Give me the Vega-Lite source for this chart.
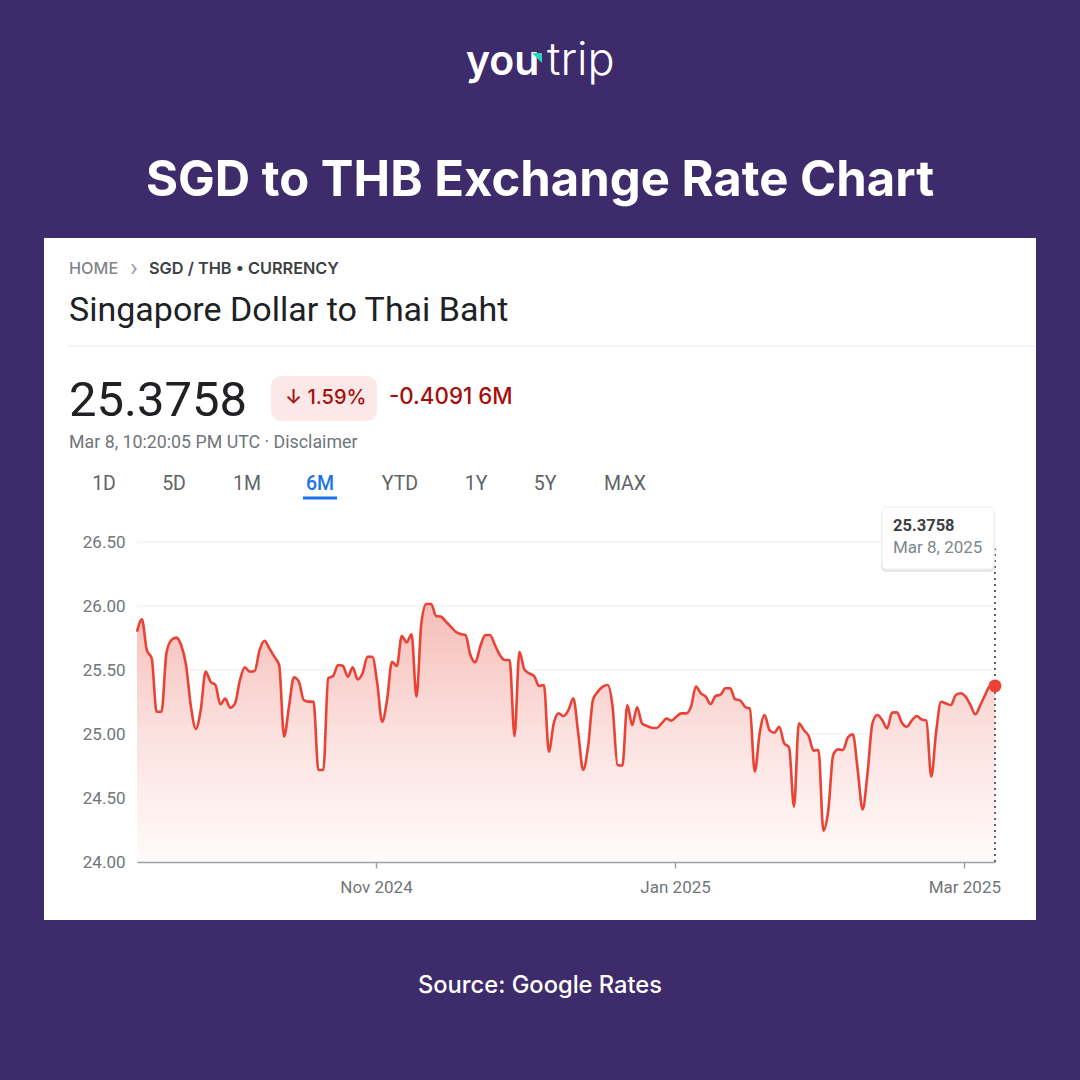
{"$schema":"https://vega.github.io/schema/vega-lite/v6.json","width":858,"height":320,"autosize":"none","padding":{"left":137,"top":542,"right":85,"bottom":218},"background":"#3E2B6B","view":{"stroke":null},"config":{"text":{"baseline":"alphabetic"}},"datasets":{"rates":[
{"date":"2024-09-13T06:00:00","rate":25.799},{"date":"2024-09-14T06:00:00","rate":25.896},{"date":"2024-09-15T06:00:00","rate":25.656},{"date":"2024-09-16T06:00:00","rate":25.591},{"date":"2024-09-17T06:00:00","rate":25.174},{"date":"2024-09-18T06:00:00","rate":25.174},{"date":"2024-09-19T06:00:00","rate":25.63},{"date":"2024-09-20T06:00:00","rate":25.734},{"date":"2024-09-21T06:00:00","rate":25.753},{"date":"2024-09-22T06:00:00","rate":25.695},{"date":"2024-09-23T06:00:00","rate":25.539},{"date":"2024-09-24T06:00:00","rate":25.214},{"date":"2024-09-25T06:00:00","rate":25.039},{"date":"2024-09-26T06:00:00","rate":25.188},{"date":"2024-09-27T06:00:00","rate":25.487},{"date":"2024-09-28T06:00:00","rate":25.409},{"date":"2024-09-29T06:00:00","rate":25.383},{"date":"2024-09-30T06:00:00","rate":25.232},
{"date":"2024-10-01T06:00:00","rate":25.276},{"date":"2024-10-02T06:00:00","rate":25.206},{"date":"2024-10-03T06:00:00","rate":25.24},{"date":"2024-10-04T06:00:00","rate":25.422},{"date":"2024-10-05T06:00:00","rate":25.521},{"date":"2024-10-06T06:00:00","rate":25.487},{"date":"2024-10-07T06:00:00","rate":25.492},{"date":"2024-10-08T06:00:00","rate":25.656},{"date":"2024-10-09T06:00:00","rate":25.729},{"date":"2024-10-10T06:00:00","rate":25.669},{"date":"2024-10-11T06:00:00","rate":25.604},{"date":"2024-10-12T06:00:00","rate":25.539},{"date":"2024-10-13T06:00:00","rate":24.979},{"date":"2024-10-14T06:00:00","rate":25.214},{"date":"2024-10-15T06:00:00","rate":25.443},{"date":"2024-10-16T06:00:00","rate":25.409},{"date":"2024-10-17T06:00:00","rate":25.266},{"date":"2024-10-18T06:00:00","rate":25.253},{"date":"2024-10-19T06:00:00","rate":25.253},{"date":"2024-10-20T06:00:00","rate":24.719},{"date":"2024-10-21T06:00:00","rate":24.719},{"date":"2024-10-22T06:00:00","rate":25.435},{"date":"2024-10-23T06:00:00","rate":25.453},{"date":"2024-10-24T06:00:00","rate":25.539},{"date":"2024-10-25T06:00:00","rate":25.531},{"date":"2024-10-26T06:00:00","rate":25.448},{"date":"2024-10-27T06:00:00","rate":25.521},{"date":"2024-10-28T06:00:00","rate":25.427},{"date":"2024-10-29T06:00:00","rate":25.474},{"date":"2024-10-30T06:00:00","rate":25.604},{"date":"2024-10-31T06:00:00","rate":25.604},
{"date":"2024-11-01T06:00:00","rate":25.396},{"date":"2024-11-02T06:00:00","rate":25.096},{"date":"2024-11-03T06:00:00","rate":25.266},{"date":"2024-11-04T06:00:00","rate":25.565},{"date":"2024-11-05T06:00:00","rate":25.531},{"date":"2024-11-06T06:00:00","rate":25.766},{"date":"2024-11-07T06:00:00","rate":25.716},{"date":"2024-11-08T06:00:00","rate":25.779},{"date":"2024-11-09T06:00:00","rate":25.292},{"date":"2024-11-10T06:00:00","rate":25.865},{"date":"2024-11-11T06:00:00","rate":26.016},{"date":"2024-11-12T06:00:00","rate":26.016},{"date":"2024-11-13T06:00:00","rate":25.922},{"date":"2024-11-14T06:00:00","rate":25.917},{"date":"2024-11-15T06:00:00","rate":25.878},{"date":"2024-11-16T06:00:00","rate":25.839},{"date":"2024-11-17T06:00:00","rate":25.799},{"date":"2024-11-18T06:00:00","rate":25.781},{"date":"2024-11-19T06:00:00","rate":25.773},{"date":"2024-11-20T06:00:00","rate":25.617},{"date":"2024-11-21T06:00:00","rate":25.56},{"date":"2024-11-22T06:00:00","rate":25.682},{"date":"2024-11-23T06:00:00","rate":25.771},{"date":"2024-11-24T06:00:00","rate":25.773},{"date":"2024-11-25T06:00:00","rate":25.695},{"date":"2024-11-26T06:00:00","rate":25.617},{"date":"2024-11-27T06:00:00","rate":25.578},{"date":"2024-11-28T06:00:00","rate":25.578},{"date":"2024-11-29T06:00:00","rate":24.984},{"date":"2024-11-30T06:00:00","rate":25.643},
{"date":"2024-12-01T06:00:00","rate":25.505},{"date":"2024-12-02T06:00:00","rate":25.474},{"date":"2024-12-03T06:00:00","rate":25.453},{"date":"2024-12-04T06:00:00","rate":25.375},{"date":"2024-12-05T06:00:00","rate":25.383},{"date":"2024-12-06T06:00:00","rate":24.862},{"date":"2024-12-07T06:00:00","rate":25.083},{"date":"2024-12-08T06:00:00","rate":25.161},{"date":"2024-12-09T06:00:00","rate":25.141},{"date":"2024-12-10T06:00:00","rate":25.188},{"date":"2024-12-11T06:00:00","rate":25.279},{"date":"2024-12-12T06:00:00","rate":25.005},{"date":"2024-12-13T06:00:00","rate":24.719},{"date":"2024-12-14T06:00:00","rate":24.901},{"date":"2024-12-15T06:00:00","rate":25.266},{"date":"2024-12-16T06:00:00","rate":25.331},{"date":"2024-12-17T06:00:00","rate":25.37},{"date":"2024-12-18T06:00:00","rate":25.383},{"date":"2024-12-19T06:00:00","rate":25.214},{"date":"2024-12-20T06:00:00","rate":24.758},{"date":"2024-12-21T06:00:00","rate":24.753},{"date":"2024-12-22T06:00:00","rate":25.227},{"date":"2024-12-23T06:00:00","rate":25.07},{"date":"2024-12-24T06:00:00","rate":25.208},{"date":"2024-12-25T06:00:00","rate":25.083},{"date":"2024-12-26T06:00:00","rate":25.0625},{"date":"2024-12-27T06:00:00","rate":25.049},{"date":"2024-12-28T06:00:00","rate":25.047},{"date":"2024-12-29T06:00:00","rate":25.083},{"date":"2024-12-30T06:00:00","rate":25.12},{"date":"2024-12-31T06:00:00","rate":25.104},
{"date":"2025-01-01T06:00:00","rate":25.135},{"date":"2025-01-02T06:00:00","rate":25.161},{"date":"2025-01-03T06:00:00","rate":25.161},{"date":"2025-01-04T06:00:00","rate":25.214},{"date":"2025-01-05T06:00:00","rate":25.37},{"date":"2025-01-06T06:00:00","rate":25.318},{"date":"2025-01-07T06:00:00","rate":25.292},{"date":"2025-01-08T06:00:00","rate":25.234},{"date":"2025-01-09T06:00:00","rate":25.297},{"date":"2025-01-10T06:00:00","rate":25.307},{"date":"2025-01-11T06:00:00","rate":25.357},{"date":"2025-01-12T06:00:00","rate":25.357},{"date":"2025-01-13T06:00:00","rate":25.271},{"date":"2025-01-14T06:00:00","rate":25.263},{"date":"2025-01-15T06:00:00","rate":25.213},{"date":"2025-01-16T06:00:00","rate":25.198},{"date":"2025-01-17T06:00:00","rate":24.706},{"date":"2025-01-18T06:00:00","rate":25.005},{"date":"2025-01-19T06:00:00","rate":25.148},{"date":"2025-01-20T06:00:00","rate":25.031},{"date":"2025-01-21T06:00:00","rate":25.01},{"date":"2025-01-22T06:00:00","rate":25.057},{"date":"2025-01-23T06:00:00","rate":24.927},{"date":"2025-01-24T06:00:00","rate":24.896},{"date":"2025-01-25T06:00:00","rate":24.432},{"date":"2025-01-26T06:00:00","rate":25.083},{"date":"2025-01-27T06:00:00","rate":25.031},{"date":"2025-01-28T06:00:00","rate":24.984},{"date":"2025-01-29T06:00:00","rate":24.87},{"date":"2025-01-30T06:00:00","rate":24.875},{"date":"2025-01-31T06:00:00","rate":24.245},
{"date":"2025-02-01T06:00:00","rate":24.406},{"date":"2025-02-02T06:00:00","rate":24.836},{"date":"2025-02-03T06:00:00","rate":24.88},{"date":"2025-02-04T06:00:00","rate":24.875},{"date":"2025-02-05T06:00:00","rate":24.974},{"date":"2025-02-06T06:00:00","rate":24.997},{"date":"2025-02-07T06:00:00","rate":24.719},{"date":"2025-02-08T06:00:00","rate":24.411},{"date":"2025-02-09T06:00:00","rate":24.693},{"date":"2025-02-10T06:00:00","rate":25.083},{"date":"2025-02-11T06:00:00","rate":25.148},{"date":"2025-02-12T06:00:00","rate":25.109},{"date":"2025-02-13T06:00:00","rate":25.044},{"date":"2025-02-14T06:00:00","rate":25.167},{"date":"2025-02-15T06:00:00","rate":25.169},{"date":"2025-02-16T06:00:00","rate":25.088},{"date":"2025-02-17T06:00:00","rate":25.057},{"date":"2025-02-18T06:00:00","rate":25.104},{"date":"2025-02-19T06:00:00","rate":25.141},{"date":"2025-02-20T06:00:00","rate":25.114},{"date":"2025-02-21T06:00:00","rate":25.104},{"date":"2025-02-22T06:00:00","rate":24.667},{"date":"2025-02-23T06:00:00","rate":25.018},{"date":"2025-02-24T06:00:00","rate":25.252},{"date":"2025-02-25T06:00:00","rate":25.239},{"date":"2025-02-26T06:00:00","rate":25.226},{"date":"2025-02-27T06:00:00","rate":25.305},{"date":"2025-02-28T06:00:00","rate":25.318},
{"date":"2025-03-01T06:00:00","rate":25.292},{"date":"2025-03-02T06:00:00","rate":25.226},{"date":"2025-03-03T06:00:00","rate":25.154},{"date":"2025-03-04T06:00:00","rate":25.226},{"date":"2025-03-05T06:00:00","rate":25.305},{"date":"2025-03-06T06:00:00","rate":25.375},{"date":"2025-03-07T06:00:00","rate":25.3758}],
"latest":[{"date":"2025-03-07T06:00:00","rate":25.3758,"top":26.45,"floor":24}],
"grid":[{"level":24.5},{"level":25},{"level":25.5},{"level":26},{"level":26.5}],
"one":[{"n":1}]},
"layer":[
{"data":{"name":"one"},"mark":{"type":"rect","fill":"#ffffff"},"encoding":{"x":{"value":-93},"x2":{"value":899},"y":{"value":-304},"y2":{"value":378}}},
{"data":{"name":"one"},"mark":{"type":"rule","stroke":"#E8EAED","strokeWidth":1},"encoding":{"x":{"value":-68},"x2":{"value":899},"y":{"value":-196}}},
{"data":{"name":"grid"},"mark":{"type":"rule","stroke":"#F3F3F3","strokeWidth":1.5},"encoding":{"y":{"field":"level","type":"quantitative","title":null,"scale":{"domain":[24,26.5],"nice":false,"zero":false}},"x":{"value":0},"x2":{"value":858}}},
{"data":{"name":"rates"},"mark":{"type":"area","interpolate":"monotone","line":false,"color":{"gradient":"linear","x1":0,"y1":0,"x2":0,"y2":1,"stops":[{"offset":0,"color":"#F6BDB8"},{"offset":0.5,"color":"#FBE1DF"},{"offset":1,"color":"#FFFBFA"}]}},"encoding":{
"x":{"field":"date","type":"temporal","title":null,"scale":{"domain":[{"year":2024,"month":"sep","date":13,"hours":6},{"year":2025,"month":"mar","date":7,"hours":6}],"nice":false},"axis":{"values":[{"year":2024,"month":"nov","date":1},{"year":2025,"month":"jan","date":1},{"year":2025,"month":"mar","date":1}],"format":"%b %Y","grid":false,"zindex":1,"domainColor":"#9AA0A6","domainWidth":1.5,"tickColor":"#9AA0A6","tickSize":6,"tickWidth":1.5,"labelColor":"#70757A","labelFont":"Roboto","labelFontSize":17,"labelPadding":11,"labelFlush":false,"labelOverlap":false,"labelBound":false}},
"y":{"field":"rate","type":"quantitative","stack":null,"title":null,"scale":{"domain":[24,26.5],"nice":false,"zero":false},"axis":{"values":[24,24.5,25,25.5,26,26.5],"format":".2f","grid":false,"zindex":1,"domain":false,"ticks":false,"labelColor":"#70757A","labelFont":"Roboto","labelFontSize":17,"labelPadding":12}}}},
{"data":{"name":"rates"},"mark":{"type":"line","interpolate":"monotone","stroke":"#EA4335","strokeWidth":2.6},"encoding":{"x":{"field":"date","type":"temporal","title":null},"y":{"field":"rate","type":"quantitative","title":null}}},
{"data":{"name":"latest"},"mark":{"type":"rule","stroke":"#5F6368","strokeWidth":2,"strokeDash":[2,4]},"encoding":{"x":{"field":"date","type":"temporal","title":null},"y":{"field":"floor","type":"quantitative","title":null},"y2":{"field":"top"}}},
{"data":{"name":"latest"},"mark":{"type":"point","filled":true,"color":"#EA4335","opacity":1,"size":165},"encoding":{"x":{"field":"date","type":"temporal","title":null},"y":{"field":"rate","type":"quantitative","title":null}}},
{"data":{"name":"one"},"mark":{"type":"rect","fill":"#CFCFCF","opacity":0.5,"cornerRadius":5},"encoding":{"x":{"value":744},"x2":{"value":858},"y":{"value":-33},"y2":{"value":30}}},
{"data":{"name":"one"},"mark":{"type":"rect","fill":"#ffffff","stroke":"#F1F1F1","cornerRadius":4},"encoding":{"x":{"value":745},"x2":{"value":857},"y":{"value":-35},"y2":{"value":27}}},
{"data":{"values":[{"label":"25.3758"}]},"mark":{"type":"text","x":756,"y":-11,"align":"left","font":"Roboto","fontSize":16.5,"fontWeight":700,"fill":"#3C4043"},"encoding":{"text":{"field":"label"}}},
{"data":{"values":[{"label":"Mar 8, 2025"}]},"mark":{"type":"text","x":756,"y":11,"align":"left","font":"Roboto","fontSize":17,"fill":"#80868B"},"encoding":{"text":{"field":"label"}}},
{"data":{"values":[{"label":"HOME"}]},"mark":{"type":"text","x":-68,"y":-268,"align":"left","font":"Inter","fontSize":16.3,"fontWeight":500,"fill":"#80868B"},"encoding":{"text":{"field":"label"}}},
{"data":{"values":[{"label":"›"}]},"mark":{"type":"text","x":-3,"y":-266,"align":"center","font":"Roboto","fontSize":26,"fill":"#9AA0A6"},"encoding":{"text":{"field":"label"}}},
{"data":{"values":[{"label":"SGD / THB • CURRENCY"}]},"mark":{"type":"text","x":12,"y":-268,"align":"left","font":"Inter","fontSize":16.3,"fontWeight":600,"fill":"#3C4043"},"encoding":{"text":{"field":"label"}}},
{"data":{"values":[{"label":"Singapore Dollar to Thai Baht"}]},"mark":{"type":"text","x":-68,"y":-221,"align":"left","font":"Roboto","fontSize":34,"fill":"#202124"},"encoding":{"text":{"field":"label"}}},
{"data":{"values":[{"label":"25.3758"}]},"mark":{"type":"text","x":-68,"y":-126,"align":"left","font":"Roboto","fontSize":49,"fill":"#202124"},"encoding":{"text":{"field":"label"}}},
{"data":{"name":"one"},"mark":{"type":"rect","fill":"#FCE8E6","cornerRadius":10},"encoding":{"x":{"value":134},"x2":{"value":240},"y":{"value":-166},"y2":{"value":-121}}},
{"data":{"values":[{"label":"↓ 1.59%"}]},"mark":{"type":"text","x":148,"y":-138,"align":"left","font":"Inter","fontSize":20,"fontWeight":500,"fill":"#A50E0E"},"encoding":{"text":{"field":"label"}}},
{"data":{"values":[{"label":"-0.4091 6M"}]},"mark":{"type":"text","x":252,"y":-138,"align":"left","font":"Inter","fontSize":22.3,"fontWeight":500,"fill":"#A50E0E"},"encoding":{"text":{"field":"label"}}},
{"data":{"values":[{"label":"Mar 8, 10:20:05 PM UTC · Disclaimer"}]},"mark":{"type":"text","x":-68,"y":-94,"align":"left","font":"Roboto","fontSize":17.8,"fill":"#70757A"},"encoding":{"text":{"field":"label"}}},
{"data":{"values":[{"tab":"1D"}]},"mark":{"type":"text","x":-33,"y":-52,"align":"center","font":"Roboto","fontSize":19.5,"fontWeight":400,"fill":"#5F6368"},"encoding":{"text":{"field":"tab"}}},
{"data":{"values":[{"tab":"5D"}]},"mark":{"type":"text","x":37,"y":-52,"align":"center","font":"Roboto","fontSize":19.5,"fontWeight":400,"fill":"#5F6368"},"encoding":{"text":{"field":"tab"}}},
{"data":{"values":[{"tab":"1M"}]},"mark":{"type":"text","x":110,"y":-52,"align":"center","font":"Roboto","fontSize":19.5,"fontWeight":400,"fill":"#5F6368"},"encoding":{"text":{"field":"tab"}}},
{"data":{"values":[{"tab":"6M"}]},"mark":{"type":"text","x":183,"y":-52,"align":"center","font":"Roboto","fontSize":19.5,"fontWeight":500,"fill":"#1A73E8"},"encoding":{"text":{"field":"tab"}}},
{"data":{"values":[{"tab":"YTD"}]},"mark":{"type":"text","x":263,"y":-52,"align":"center","font":"Roboto","fontSize":19.5,"fontWeight":400,"fill":"#5F6368"},"encoding":{"text":{"field":"tab"}}},
{"data":{"values":[{"tab":"1Y"}]},"mark":{"type":"text","x":339,"y":-52,"align":"center","font":"Roboto","fontSize":19.5,"fontWeight":400,"fill":"#5F6368"},"encoding":{"text":{"field":"tab"}}},
{"data":{"values":[{"tab":"5Y"}]},"mark":{"type":"text","x":408,"y":-52,"align":"center","font":"Roboto","fontSize":19.5,"fontWeight":400,"fill":"#5F6368"},"encoding":{"text":{"field":"tab"}}},
{"data":{"values":[{"tab":"MAX"}]},"mark":{"type":"text","x":488,"y":-52,"align":"center","font":"Roboto","fontSize":19.5,"fontWeight":400,"fill":"#5F6368"},"encoding":{"text":{"field":"tab"}}},
{"data":{"name":"one"},"mark":{"type":"rule","stroke":"#1A73E8","strokeWidth":3},"encoding":{"x":{"value":166},"x2":{"value":200},"y":{"value":-44}}},
{"data":{"values":[{"label":"you"}]},"mark":{"type":"text","x":329,"y":-467,"align":"left","font":"Inter","fontSize":41,"fontWeight":600,"fill":"#ffffff"},"encoding":{"text":{"field":"label"}}},
{"data":{"values":[{"label":"trip"}]},"mark":{"type":"text","x":410,"y":-467,"align":"left","font":"Inter","fontSize":45,"fontWeight":300,"fill":"#ffffff"},"encoding":{"text":{"field":"label"}}},
{"data":{"name":"one"},"mark":{"type":"point","filled":true,"fill":"#2BD4C0","opacity":1,"shape":"M -1 -1 L 1 -1 L 1 1 Z","size":100},"encoding":{"x":{"value":400},"y":{"value":-484}}},
{"data":{"values":[{"label":"SGD to THB Exchange Rate Chart"}]},"mark":{"type":"text","x":403,"y":-346,"align":"center","font":"Inter","fontSize":49,"fontWeight":700,"fill":"#ffffff"},"encoding":{"text":{"field":"label"}}},
{"data":{"values":[{"label":"Source: Google Rates"}]},"mark":{"type":"text","x":403,"y":451,"align":"center","font":"Inter","fontSize":23.7,"fontWeight":500,"fill":"#ffffff"},"encoding":{"text":{"field":"label"}}}
]}
